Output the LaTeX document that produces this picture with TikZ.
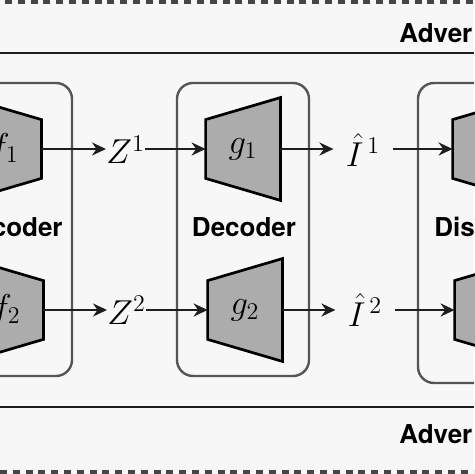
\documentclass[tikz,border=0pt]{standalone}
\usepackage{fontspec}
\usetikzlibrary{arrows.meta}
\newfontfamily\headfont{TeX Gyre Heros}
\definecolor{bgcol}{RGB}{247,247,247}
\definecolor{boxgray}{RGB}{85,85,85}
\definecolor{netgray}{RGB}{172,172,172}
\definecolor{inkblack}{RGB}{30,30,30}
\definecolor{dashgray}{RGB}{70,70,70}
\pgfdeclarelayer{back}
\pgfsetlayers{back,main}

\begin{document}
\begin{tikzpicture}[x=0.5pt, y=-0.5pt,
  grp/.style={draw=boxgray, line width=1.2pt, rounded corners=8pt},
  net/.style={minimum width=37pt, minimum height=29pt, inner sep=0pt, font=\fontsize{18}{21}\selectfont},
  netfill/.style={draw=black, fill=netgray, line width=1.35pt, line join=miter},
  var/.style={inner sep=0pt, font=\fontsize{18}{21}\selectfont},
  arr/.style={-{Stealth[length=7pt, width=6.5pt]}, line width=1.1pt, draw=inkblack},
  title/.style={font=\headfont\bfseries\fontsize{13}{15}\selectfont, inner sep=0pt}]

\useasboundingbox (0,0) rectangle (474,474);
\clip (0,0) rectangle (474,474);

% Loss bands
\draw[dashgray, line width=2.2pt, dash pattern=on 3.5pt off 2.9pt] (5,2) -- (474,2);
\draw[dashgray, line width=2.2pt, dash pattern=on 3.5pt off 2.9pt] (0,472) -- (474,472);
\draw[inkblack, line width=1.4pt] (0,53) -- (474,53);
\draw[inkblack, line width=1.4pt] (0,407) -- (474,407);
\node[title, anchor=base west] (advtop) at (399,43) {Adver};
\node[title, anchor=base west] (advbot) at (399,443) {Adver};

% Group boxes
\draw[grp] (-60,83) rectangle (72,376);
\draw[grp] (177,83) rectangle (309,376);
\draw[grp] (418,83) rectangle (550,383);
\node[title, anchor=base east] (enctxt) at (63,237) {coder};
\node[title, anchor=base] (dectxt) at (244,237) {Decoder};
\node[title, anchor=base west] (distxt) at (434,237) {Dis};

% Networks
\node[net] (f1) at (4,149) {$f_1$};
\node[net] (f2) at (6,310) {$f_2$};
\node[net] (g1) at (243,149) {$g_1$};
\node[net] (g2) at (245,310) {$g_2$};
\node[net] (d1) at (490,149) {};
\node[net] (d2) at (492,310) {};

% Latent codes and reconstructions
\node[var, anchor=west] (Z1) at (106,150) {$Z^1$};
\node[var, anchor=west] (Z2) at (107,310) {$Z^2$};
\node[var, inner xsep=6pt] (I1) at (363,150) {$\hat{I}^{\,1}$};
\node[var, inner xsep=6pt] (I2) at (365,310) {$\hat{I}^{\,2}$};

% Trapezoid bodies
\begin{pgfonlayer}{back}
\fill[bgcol] (0,0) rectangle (474,474);
\draw[netfill] ([yshift=11pt]f1.north west) -- (f1.north east) -- (f1.south east) -- ([yshift=-11pt]f1.south west) -- cycle;
\draw[netfill] ([yshift=11pt]f2.north west) -- (f2.north east) -- (f2.south east) -- ([yshift=-11pt]f2.south west) -- cycle;
\draw[netfill] (g1.south west) -- (g1.north west) -- ([yshift=11pt]g1.north east) -- ([yshift=-11pt]g1.south east) -- cycle;
\draw[netfill] (g2.south west) -- (g2.north west) -- ([yshift=11pt]g2.north east) -- ([yshift=-11pt]g2.south east) -- cycle;
\draw[netfill] (d1.south west) -- (d1.north west) -- ([yshift=11pt]d1.north east) -- ([yshift=-11pt]d1.south east) -- cycle;
\draw[netfill] (d2.south west) -- (d2.north west) -- ([yshift=11pt]d2.north east) -- ([yshift=-11pt]d2.south east) -- cycle;
\end{pgfonlayer}

% Data flow
\draw[arr] (f1.east) -- (f1.east -| Z1.west);
\draw[arr] (Z1.east |- g1.west) -- (g1.west);
\draw[arr] (g1.east) -- (g1.east -| I1.west);
\draw[arr] (I1.east |- d1.west) -- (d1.west);
\draw[arr] (f2.east) -- (f2.east -| Z2.west);
\draw[arr] (Z2.east |- g2.west) -- (g2.west);
\draw[arr] (g2.east) -- (g2.east -| I2.west);
\draw[arr] (I2.east |- d2.west) -- (d2.west);

\end{tikzpicture}
\end{document}
